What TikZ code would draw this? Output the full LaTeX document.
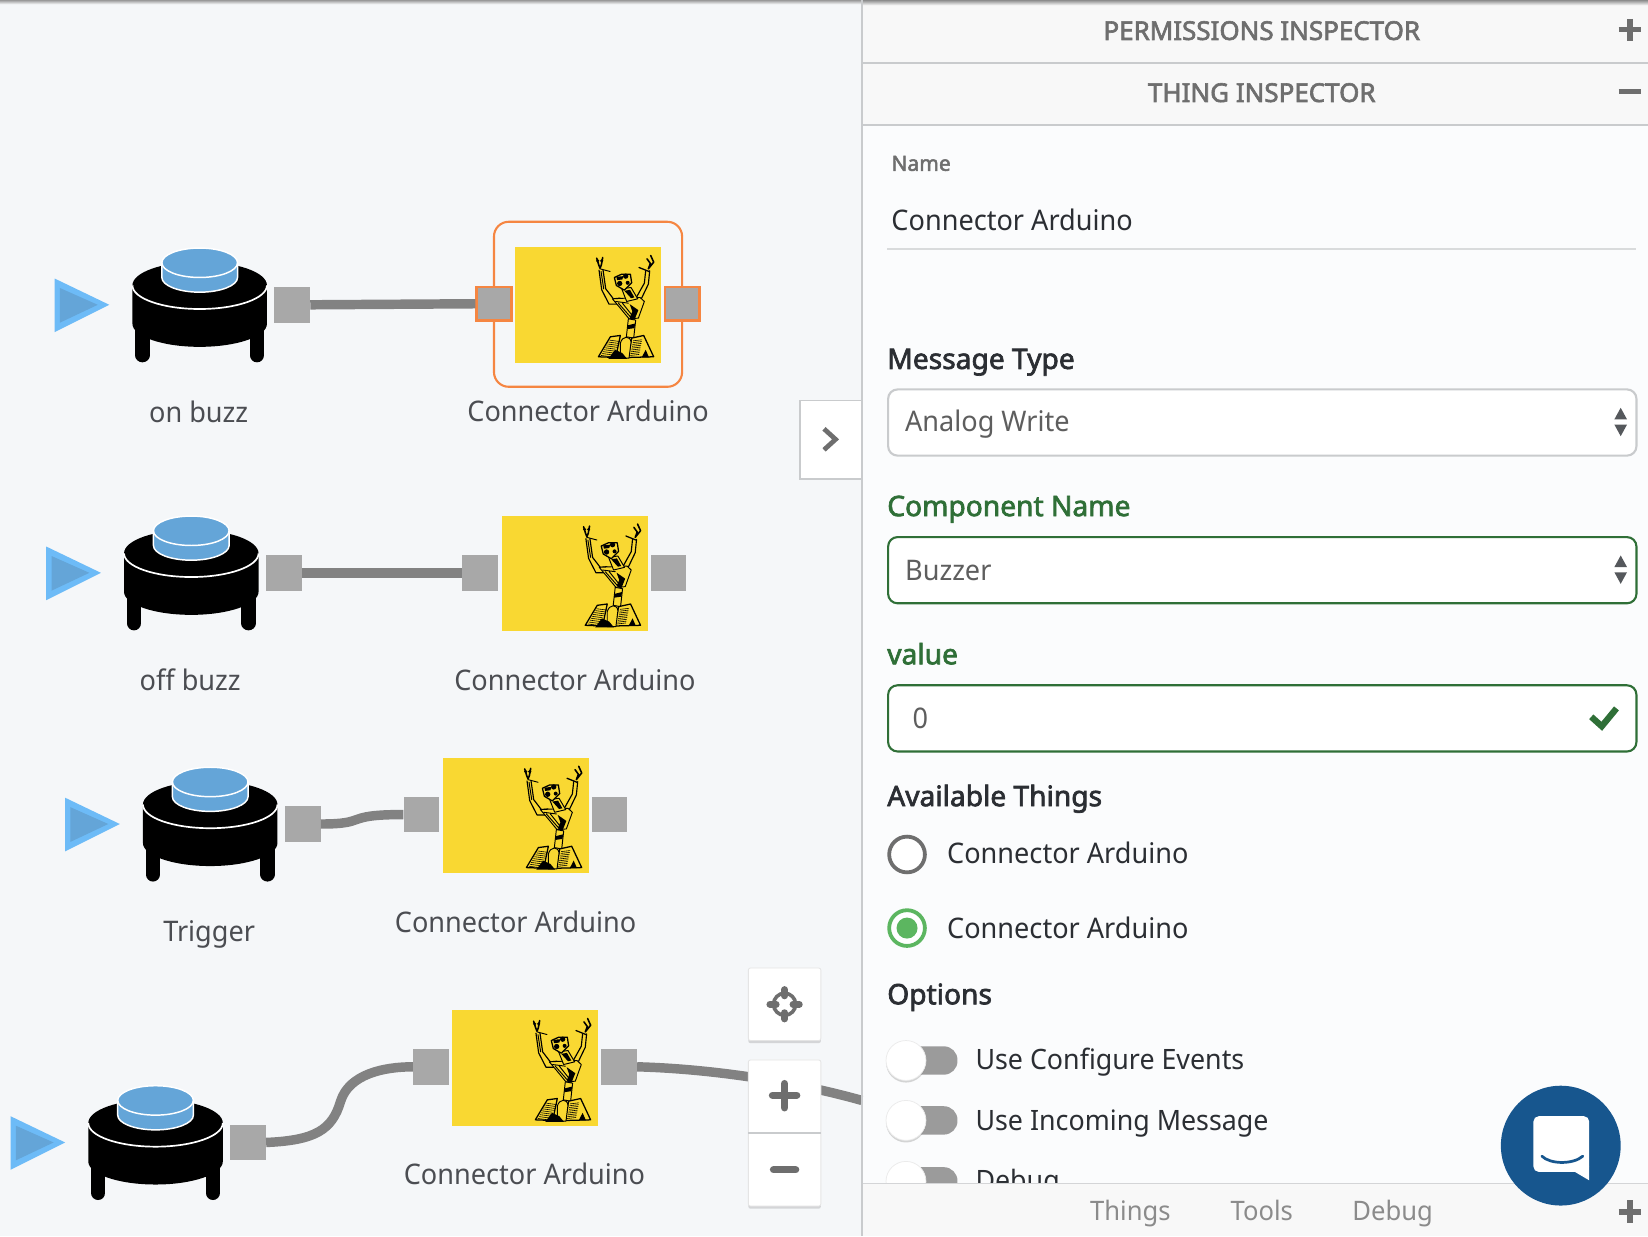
\documentclass[tikz,border=0pt]{standalone}
\usepackage{fontspec}
\setmainfont{Noto Sans}[FakeStretch=0.955]
\newfontfamily\boldf{Noto Sans}[FakeBold=2.4]
\usetikzlibrary{shadows,shapes.geometric,calc}
\definecolor{canvasbg}{HTML}{F5F7F9}
\definecolor{panelbg}{HTML}{FBFCFD}
\definecolor{headbg}{HTML}{F8F8F8}
\definecolor{rulegray}{HTML}{C9CBCD}
\definecolor{portgray}{HTML}{A8A8A8}
\definecolor{wiregray}{HTML}{828282}
\definecolor{thingyellow}{HTML}{F9D832}
\definecolor{selorange}{HTML}{F58642}
\definecolor{btnblue}{HTML}{64A5D8}
\definecolor{tribright}{HTML}{6DBBF7}
\definecolor{okgreen}{HTML}{2F6F37}
\definecolor{radiogreen}{HTML}{5CB660}
\definecolor{inktext}{HTML}{2B2E33}
\definecolor{headtext}{HTML}{6E6E6E}
\definecolor{chatblue}{HTML}{17568E}
\newcommand{\fs}[1]{\fontsize{#1}{#1}\selectfont}
\tikzset{
  x=1pt,y=-1pt,
  portbox/.style={draw=none,fill=portgray,minimum width=34pt,minimum height=34pt,inner sep=0pt},
  portsel/.style={portbox,draw=selorange,line width=2.4pt,minimum width=33pt,minimum height=32pt},
  thingbox/.style={fill=thingyellow,minimum width=139pt,minimum height=110pt,inner sep=0pt},
  wire/.style={draw=wiregray,line width=9pt},
  flat/.style={inner sep=0pt,text height=20pt,text depth=0pt},
  nodelabel/.style={flat,text=inktext!85!white,font=\fs{27}},
  paneltext/.style={flat,anchor=west,text=inktext,font=\fs{27}},
  fieldtext/.style={flat,anchor=west,text=headtext!85!black,font=\fs{27}},
  boldlabel/.style={flat,anchor=west,text=inktext,font=\boldf\fs{26.8}},
  greenlabel/.style={boldlabel,text=okgreen},
  headlabel/.style={flat,text=headtext,font=\boldf\fs{24.7}},
  tabtext/.style={flat,text=headtext!80,font=\fs{25.5}},
  fieldbox/.style={draw=rulegray,line width=2pt,rounded corners=9pt,fill=white,minimum width=712pt,minimum height=63pt,inner sep=0pt},
  greenfield/.style={fieldbox,draw=okgreen},
  uibutton/.style={fill=white,draw=black!10,line width=.8pt,inner sep=0pt,rounded corners=2pt,drop shadow={opacity=.28,shadow xshift=0pt,shadow yshift=-2.5pt}},
  iconbar/.style={line width=7pt,draw=headtext,line cap=round},
  knob/.style={circle,fill=white,draw=black!8,line width=.7pt,minimum size=38pt,inner sep=0pt,drop shadow={opacity=.32,shadow xshift=0pt,shadow yshift=-2pt}},
  track/.style={fill=portgray!92!black,rounded corners=13pt,minimum width=50pt,minimum height=27pt,inner sep=0pt},
  robotline/.style={draw=black,line width=.9pt,line join=round,line cap=round},
  buzzer/.pic={
    \draw[fill=tribright,draw=none] (-138,-25) -- (-86,0) -- (-138,26) -- cycle;
    \draw[fill=btnblue,draw=none] (-133,-16) -- (-97,0) -- (-133,17) -- cycle;
    \foreach \s in {-54.5,54.5}{\draw[black,line width=13.5pt,line cap=round] (\s,-5) -- (\s,48);}
    \fill[black] (-64,-18.5) -- (-64,18) arc[start angle=180,end angle=360,x radius=64pt,y radius=22pt] -- (64,-18.5) arc[start angle=0,end angle=180,x radius=64pt,y radius=22.5pt] -- cycle;
    \draw[white,line width=1.6pt] (-64,-18.5) arc[start angle=180,end angle=360,x radius=64pt,y radius=22.5pt];
    \draw[white,fill=btnblue,line width=1.4pt] (-36,-40) -- (-36,-26) arc[start angle=180,end angle=360,x radius=36pt,y radius=14pt] -- (36,-40) arc[start angle=0,end angle=180,x radius=36pt,y radius=14pt] -- cycle;
    \draw[white,line width=1.4pt] (-36,-40) arc[start angle=180,end angle=360,x radius=36pt,y radius=14pt];
  },
  robot/.pic={
    \begin{scope}[x=.317pt,y=-.317pt,shift={(-9,-170)}]
      % left claw and arm
      \draw[robotline,line width=1.5pt] (35,30) -- (41,50) -- (45,60) (53,28) -- (49,50) -- (45,60);
      \fill (38,38) circle (5) (50,38) circle (5);
      \draw[robotline] (45,62) -- (75,70);
      \draw[robotline,line width=1.1pt] (42,66) -- (50,125) -- (72,168) -- (100,168);
      \draw[robotline,line width=1.1pt] (54,66) -- (62,122) -- (85,152) -- (105,150);
      \draw[robotline] (48,70) -- (56,122);
      % right claw and arm
      \draw[robotline,line width=1.5pt] (197,22) -- (206,42) -- (190,62) (186,32) -- (196,46) -- (190,62);
      \draw[robotline,line width=1.2pt] (162,58) -- (192,70);
      \draw[robotline,line width=1.1pt] (182,68) -- (178,105) -- (150,155);
      \draw[robotline,line width=1.1pt] (194,68) -- (190,108) -- (165,160);
      % torso
      \draw[robotline,fill=thingyellow] (82,152) -- (165,148) -- (178,160) -- (160,210) -- (132,212) -- (104,178) -- cycle;
      \fill (134,168) -- (160,186) -- (148,216) -- (134,208) -- (142,190) -- cycle;
      \draw[robotline] (100,165) -- (135,205) (112,165) -- (140,200) (92,160) -- (130,165);
      % head
      \draw[robotline,fill=thingyellow] (110,122) -- (138,118) -- (158,152) -- (125,160) -- cycle;
      \fill (118,128) -- (135,125) -- (148,148) -- (138,150) -- cycle;
      \draw[robotline,fill=thingyellow,line width=1.2pt] (88,88) -- (110,78) -- (136,78) -- (140,104) -- (118,126) -- (94,112) -- cycle;
      \fill (94,86) -- (115,84) -- (112,94) -- (96,96) -- cycle;
      \fill (122,84) circle (8) (104,106) circle (8) (128,104) circle (6);
      % neck
      \draw[robotline,fill=thingyellow] (130,212) -- (152,216) -- (146,270) -- (124,266) -- cycle;
      \fill (127,232) -- (151,226) -- (148,240) -- (127,243) -- cycle;
      % tracks
      \draw[robotline,fill=thingyellow,line width=1.2pt] (40,326) -- (76,266) -- (106,262) -- (92,328) -- cycle;
      \draw[robotline,fill=thingyellow,line width=1.2pt] (130,328) -- (140,270) -- (176,262) -- (206,326) -- cycle;
      \foreach \t in {0,.11,.22,.33,.44,.55,.66,.77,.88}{
        \draw[robotline,line width=.55pt] ($(48,322)!\t!(78,270)$) -- ++(30,4);
        \draw[robotline,line width=.55pt] ($(136,322)!\t!(146,272)$) -- ++(26,-3);
      }
      \draw[robotline,fill=thingyellow] (106,330) -- (106,285) .. controls (112,262) and (136,262) .. (138,282) -- (132,330) -- cycle;
      \fill (70,332) -- (90,305) -- (112,315) -- (126,332) -- cycle;
      \fill (170,328) -- (182,305) -- (192,328) -- cycle;
    \end{scope}
  }
}
\begin{document}
\begin{tikzpicture}
\useasboundingbox (0,0) rectangle (1568,1176);
% backgrounds
\fill[canvasbg] (0,0) rectangle (820,1176);
\fill[panelbg] (820,0) rectangle (1568,1176);
\fill[headbg] (820,0) rectangle (1568,119);
\fill[top color=black!45,bottom color=headbg] (820,0) rectangle (1568,5);
\fill[top color=black!40,bottom color=canvasbg] (0,0) rectangle (820,4);
\draw[rulegray,line width=1.5pt] (820,60) -- (1568,60);
\draw[rulegray,line width=2pt] (820,119) -- (1568,119);

% ---- row 1
\pic at (190,290) {buzzer};
\node[portbox] (o1) at (278,290) {};
\draw[selorange,line width=2pt,rounded corners=14pt] (470,211) rectangle (649,368);
\node[thingbox] (t1) at (559.5,290) {};
\pic at (t1.center) {robot};
\node[portsel] (i1) at (470,289) {};
\node[portsel] (p1) at (649,289) {};
\draw[wire] (o1.east) -- (i1.west);
\node[nodelabel] (l1) at (189,392) {on buzz};
\node[nodelabel] (c1) at (559.5,391) {Connector Arduino};

% ---- row 2
\pic at (182,545) {buzzer};
\node[portbox] (o2) at (270,545) {};
\node[thingbox] (t2) at (547,545.5) {};
\pic at (t2.center) {robot};
\node[portbox] (i2) at (457,545) {};
\node[portbox] (p2) at (636,545) {};
\draw[wire] (o2.east) -- (i2.west);
\node[nodelabel] (l2) at (181,647) {off buzz};
\node[nodelabel] (c2) at (547,647) {Connector Arduino};

% ---- row 3
\pic at (200,784) {buzzer};
\node[portbox] (o3) at (288,784) {};
\node[thingbox] (t3) at (491,776) {};
\pic at (t3.center) {robot};
\node[portbox] (i3) at (401,775) {};
\node[portbox] (p3) at (580,775) {};
\draw[wire] (o3.east) .. controls (352,784) and (325,775) .. (i3.west);
\node[nodelabel] (l3) at (199,886) {Trigger};
\node[nodelabel] (c3) at (490.5,877) {Connector Arduino};

% ---- row 4
\pic at (148,1087) {buzzer};
\node[portbox] (o4) at (236,1087) {};
\node[thingbox] (t4) at (499.5,1016) {};
\pic at (t4.center) {robot};
\node[portbox] (i4) at (410,1015) {};
\node[portbox] (p4) at (589,1015) {};
\coordinate (bend) at (324,1048);
\draw[wire] (o4.east) .. controls (300,1085) and (316,1075) .. (bend) .. controls (332,1022) and (365,1015) .. (i4.west);
\coordinate (wireend) at (820,1047);
\draw[wire] (p4.east) .. controls (680,1017) and (760,1030) .. (wireend);
\node[nodelabel] (c4) at (499,1117) {Connector Arduino};

% ---- canvas buttons
\node[uibutton,minimum width=69pt,minimum height=69pt] (locate) at (746.5,955.5) {};
\draw[headtext,line width=3.4pt] (locate.center) circle (10.5);
\foreach \d in {0,90,180,270}{\draw[headtext,line width=6.5pt,line cap=round] (locate.center) ++(\d:8pt) -- ++(\d:6pt);}
\node[uibutton,minimum width=69pt,minimum height=139pt] (zoom) at (746.5,1078) {};
\draw[rulegray,line width=1pt] (712,1078) -- (781,1078);
\draw[iconbar] (735,1042) -- (758,1042) (746.5,1031) -- (746.5,1054);
\draw[iconbar] (736,1113) -- (757,1113);
\fill[white] (761,381) rectangle (820,456);
\draw[rulegray,line width=1.5pt] (820,381) -- (761,381) -- (761,456) -- (820,456);
\draw[headtext,line width=4.5pt] (784,408) -- (795,418) -- (784,428);

% ---- panel rule
\draw[rulegray,line width=1.8pt] (820,0) -- (820,1176);

% ---- headers
\node[headlabel] (h1) at (1200.5,28) {PERMISSIONS INSPECTOR};
\node[headlabel] (h2) at (1200.5,87) {THING INSPECTOR};
\draw[iconbar,line width=5.5pt,line cap=butt] (1540,28) -- (1561,28) (1550.5,18) -- (1550.5,39);
\draw[iconbar,line width=5.5pt,line cap=butt] (1540,87) -- (1561,87);

% ---- form
\node[flat,text height=15pt,anchor=west,text=headtext,font=\boldf\fs{20}] (fname) at (848,155) {Name};
\node[paneltext] (fval) at (848,209) {Connector Arduino};
\draw[rulegray!70,line width=1.5pt] (844,237) -- (1557,237);

\node[boldlabel] (m1) at (844,341) {Message Type};
\node[fieldbox] (s1) at (1201,402) {};
\node[fieldtext] at (861,401) {Analog Write};
\node[greenlabel] (m2) at (844,481) {Component Name};
\node[greenfield] (s2) at (1201,542.5) {};
\node[fieldtext] at (861,542) {Buzzer};
\foreach \yy in {402,542.5}{
  \fill[inktext!80] (1542,\yy-14) -- (1548,\yy-3) -- (1536,\yy-3) -- cycle;
  \fill[inktext!80] (1542,\yy+13) -- (1548,\yy+2) -- (1536,\yy+2) -- cycle;
}
\node[greenlabel] (m3) at (844,622) {value};
\node[greenfield] (s3) at (1201,683.5) {};
\node[fieldtext] at (868,683) {0};
\draw[okgreen,line width=6pt] (1514,682) -- (1524,691) -- (1538,674);

\node[boldlabel] (m4) at (844,757) {Available Things};
\node[circle,draw=headtext,line width=3.6pt,fill=white,minimum size=34pt,inner sep=0pt] (r1) at (863,813) {};
\node[paneltext] at (901,812) {Connector Arduino};
\node[circle,draw=radiogreen,line width=3.6pt,fill=white,minimum size=34pt,inner sep=0pt] (r2) at (863,883) {};
\fill[radiogreen] (r2.center) circle (10);
\node[paneltext] at (901,882.5) {Connector Arduino};

\node[boldlabel] (m5) at (844,945.5) {Options};
\begin{scope}
  \clip (820,960) rectangle (1568,1125);
  \foreach \yy/\tx/\ty in {1009/Use Configure Events/1008,1066/Use Incoming Message/1065.5,1124/Debug/1123}{
    \node[track] at (886,\yy) {};
    \node[knob] at (862,\yy) {};
    \node[paneltext,font=\fs{26.7}] at (928,\ty) {\tx};
  }
\end{scope}

% ---- footer
\fill[headbg] (821,1126) rectangle (1568,1176);
\draw[rulegray!80,line width=1.2pt] (821,1126) -- (1568,1126);
\node[tabtext] (f1) at (1075.5,1151.5) {Things};
\node[tabtext] (f2) at (1200.5,1151.5) {Tools};
\node[tabtext] (f3) at (1325,1151.5) {Debug};
\draw[iconbar,line width=5.5pt,line cap=butt] (1540,1153) -- (1561,1153) (1550.5,1142) -- (1550.5,1164);

% ---- chat bubble
\node[circle,fill=chatblue,minimum size=114pt,inner sep=0pt] (chat) at (1485,1090) {};
\fill[white,rounded corners=5pt] (1459,1062) rectangle (1512,1115);
\fill[white] (1490,1110) -- (1512,1110) -- (1512,1123) -- cycle;
\draw[chatblue,line width=2.6pt,line cap=round] (1467,1100) .. controls (1475,1108) and (1497,1108) .. (1506,1100);
\end{tikzpicture}
\end{document}
